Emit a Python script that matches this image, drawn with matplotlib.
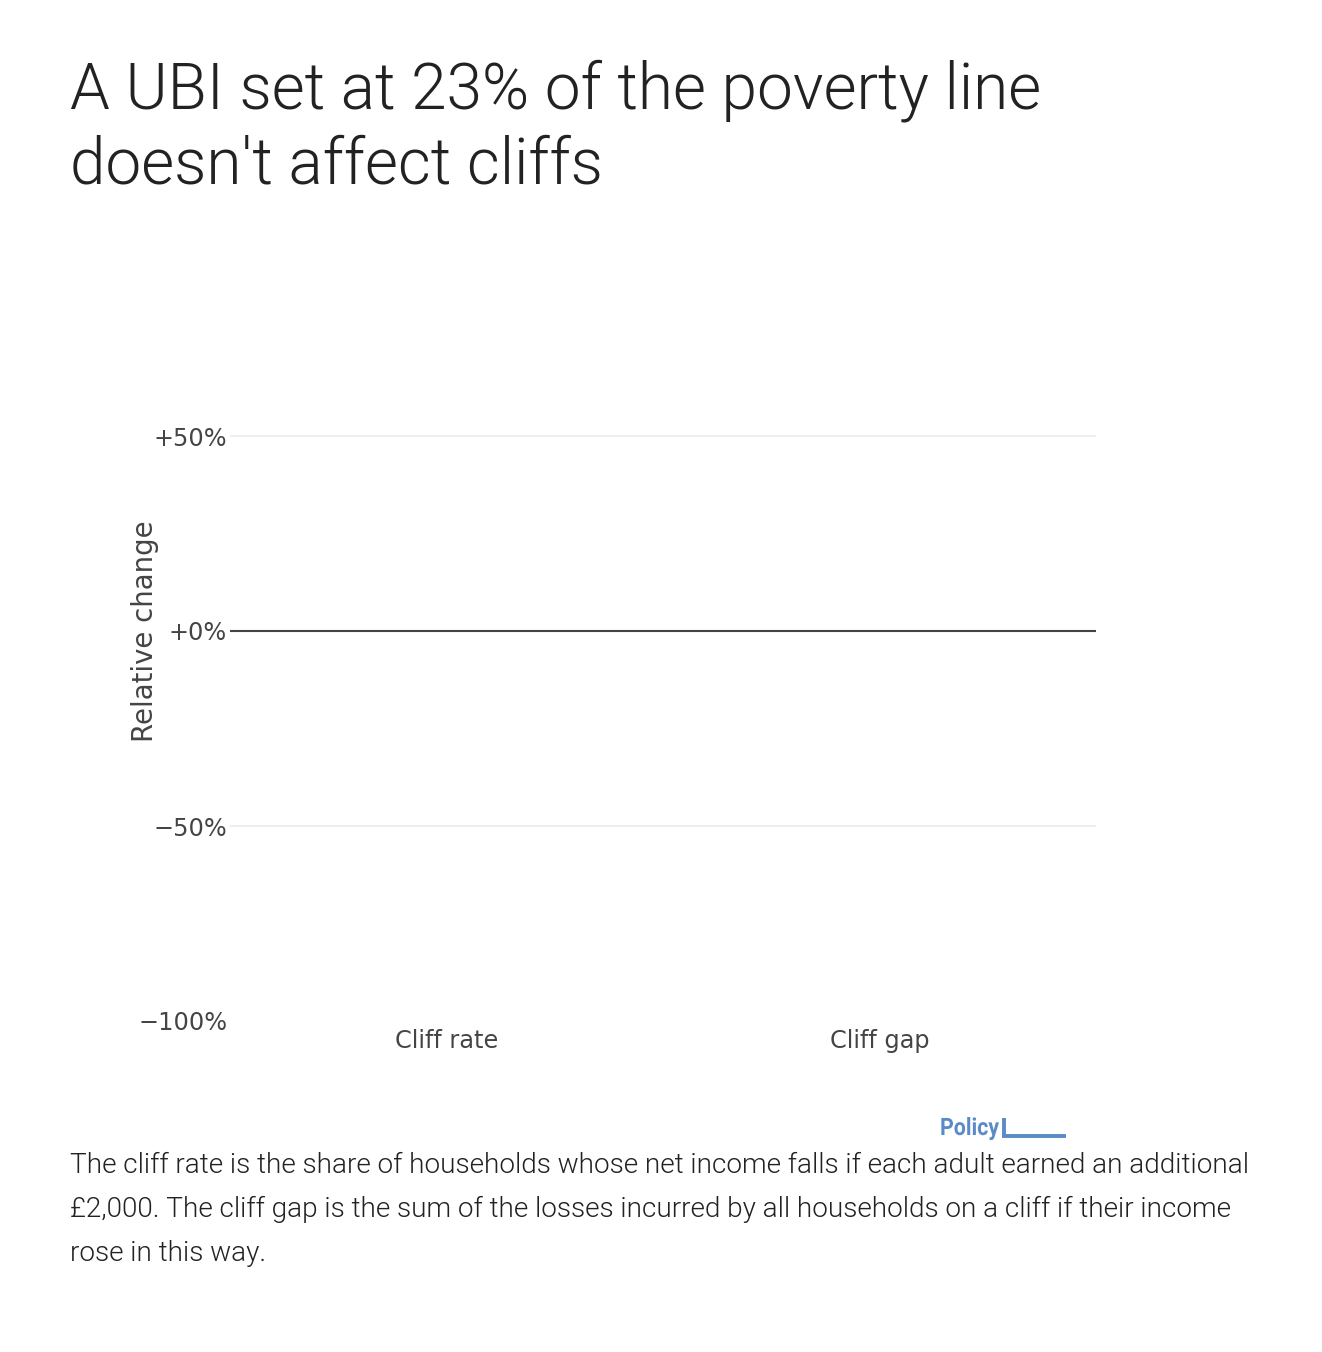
import matplotlib
matplotlib.use("Agg")
import matplotlib.pyplot as plt
from matplotlib.lines import Line2D
from matplotlib.ticker import FuncFormatter
from matplotlib.textpath import TextPath
from matplotlib.patches import PathPatch
from matplotlib.font_manager import FontProperties
from matplotlib.transforms import Affine2D

categories = ["Cliff rate", "Cliff gap"]
relative_change = [0.0, 0.0]  # percent
y_ticks = [-100, -50, 0, 50]

title_lines = ["A UBI set at 23% of the poverty line", "doesn't affect cliffs"]
footer_lines = [
    "The cliff rate is the share of households whose net income falls if each adult earned an additional",
    "£2,000. The cliff gap is the sum of the losses incurred by all households on a cliff if their income",
    "rose in this way.",
]

W, H = 1322, 1352
fig = plt.figure(figsize=(W / 100, H / 100), dpi=100)
fig.patch.set_facecolor("white")

left, right, top, bottom = 230, 1096, 241, 1021
ax = fig.add_axes([left / W, 1 - bottom / H, (right - left) / W, (bottom - top) / H])
x = list(range(len(categories)))
ax.bar(x, relative_change, width=0.8, color="#2C6496")
ax.set_xlim(-0.5, len(categories) - 0.5)
ax.set_ylim(-100, 100)
ax.set_yticks(y_ticks)

def fmt(v, pos):
    if v > 0:
        return f"+{v:.0f}%"
    if v == 0:
        return "+0%"
    return f"\u2212{abs(v):.0f}%"

ax.yaxis.set_major_formatter(FuncFormatter(fmt))
ax.set_xticks(x)
ax.set_xticklabels(categories)
for s in ax.spines.values():
    s.set_visible(False)
ax.tick_params(axis="both", length=0, labelsize=17.3, labelcolor="#444444", pad=2)
ax.tick_params(axis="x", pad=6)
for yv in y_ticks:
    if yv in (50, -50):
        ax.axhline(yv, color="#ebebeb", lw=1.2, zorder=0)
ax.axhline(0, color="#444444", lw=1.5, zorder=3)
ax.set_ylabel("Relative change", fontsize=19.8, color="#444444")
ax.yaxis.set_label_coords((145 - left) / (right - left), 0.5)
ax.yaxis.label.set_va("center")

for line, base in zip(title_lines, [108, 183]):
    fig.text(70 / W, 1 - base / H, line, fontsize=46.0, family="Roboto", fontweight=300,
             color="#222222", ha="left", va="baseline")

for line, base in zip(footer_lines, [1173, 1217, 1261]):
    fig.text(70 / W, 1 - base / H, line, fontsize=20.1, family="Roboto", fontweight=300,
             color="#222222", ha="left", va="baseline")

# logo
blue = "#5B8BC7"
tp = TextPath((0, 0), "Policy", size=24, prop=FontProperties(family="Roboto", weight="bold"))
logo_tr = Affine2D().scale(0.89, 1.0).translate(940, H - 1135)
fig.add_artist(PathPatch(tp, transform=logo_tr, facecolor=blue, edgecolor="none"))
fig.add_artist(Line2D([1004 / W, 1004 / W], [1 - 1118 / H, 1 - 1137 / H], color=blue, lw=2.8,
                      transform=fig.transFigure, solid_capstyle="butt"))
fig.add_artist(Line2D([1002 / W, 1066 / W], [1 - 1135.5 / H, 1 - 1135.5 / H], color=blue, lw=2.8,
                      transform=fig.transFigure, solid_capstyle="butt"))

fig.savefig("out.png", dpi=100, facecolor="white")
